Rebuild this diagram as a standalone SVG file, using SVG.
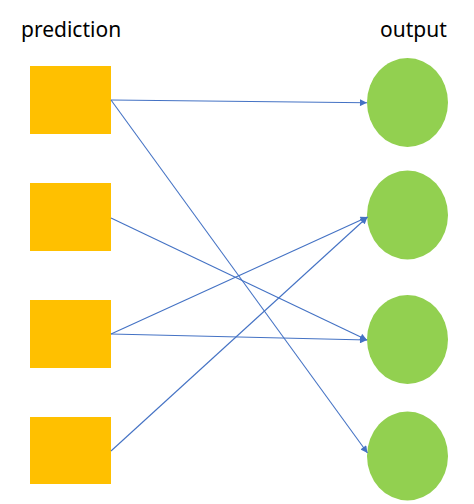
<svg xmlns="http://www.w3.org/2000/svg" width="474" height="504" viewBox="0 0 474 504">
<style>
.sq{fill:#FFC000}
.ci{fill:#92D050}
.lbl{font-family:"Noto Sans","Liberation Sans",sans-serif;font-size:21px;fill:#000}
.con line{stroke:#4472C4;stroke-width:1.1;fill:none}
</style>
<defs>
<marker id="ah" viewBox="0 0 10 10" refX="10" refY="5" markerWidth="8" markerHeight="7" markerUnits="userSpaceOnUse" orient="auto">
<path d="M0,0 L10,5 L0,10 z" fill="#4472C4"/>
</marker>
</defs>
<rect width="474" height="504" fill="#fff"/>
<text class="lbl" x="21" y="37">prediction</text>
<text class="lbl" x="380" y="37">output</text>
<g id="p1"><rect class="sq" x="30" y="66" width="81" height="68"/></g>
<g id="p2"><rect class="sq" x="30" y="183" width="81" height="68"/></g>
<g id="p3"><rect class="sq" x="30" y="300" width="81" height="68"/></g>
<g id="p4"><rect class="sq" x="30" y="417" width="81" height="67"/></g>
<g id="o1"><ellipse class="ci" cx="407.5" cy="102.5" rx="40.5" ry="44.5"/></g>
<g id="o2"><ellipse class="ci" cx="407.5" cy="215" rx="40.5" ry="44.5"/></g>
<g id="o3"><ellipse class="ci" cx="407.5" cy="339.5" rx="40.5" ry="44.5"/></g>
<g id="o4"><ellipse class="ci" cx="407.5" cy="456" rx="40.5" ry="44.5"/></g>
<g class="con" id="connectors">
<line x1="111" y1="100" x2="367" y2="102.7" marker-end="url(#ah)"/>
<line x1="111" y1="100" x2="367.5" y2="453" marker-end="url(#ah)"/>
<line x1="111" y1="218" x2="367" y2="340" marker-end="url(#ah)"/>
<line x1="111" y1="334" x2="367.5" y2="217" marker-end="url(#ah)"/>
<line x1="111" y1="334" x2="367" y2="340" marker-end="url(#ah)"/>
<line x1="111" y1="451" x2="367.5" y2="217" marker-end="url(#ah)"/>
</g>
</svg>
